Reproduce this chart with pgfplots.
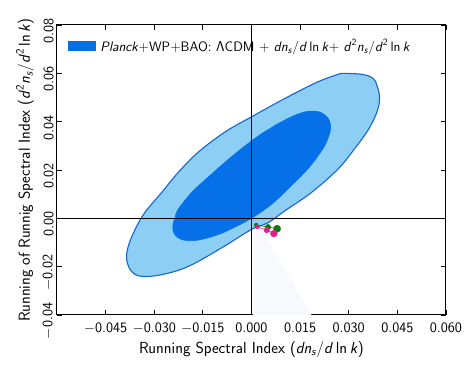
\documentclass[border=0pt]{standalone}
\usepackage{pgfplots}
\pgfplotsset{compat=1.18}
\renewcommand{\familydefault}{\sfdefault}
\definecolor{cdark}{HTML}{0670E8}
\definecolor{clight}{HTML}{8DCEF5}
\definecolor{cedge}{HTML}{1565D0}
\definecolor{cwedge}{HTML}{F7F9FD}
\definecolor{cgreen}{HTML}{0A7A0A}
\definecolor{cmag}{HTML}{E0208A}
\begin{document}
\begin{tikzpicture}
\begin{axis}[
  scale only axis, width=389pt, height=290pt,
  xmin=-0.06, xmax=0.06, ymin=-0.04, ymax=0.08,
  xtick={-0.045,-0.03,-0.015,0,0.015,0.03,0.045,0.06},
  ytick={-0.04,-0.02,0,0.02,0.04,0.06,0.08},
  scaled ticks=false,
  xticklabel={$\mathsf{\pgfmathprintnumber[fixed,fixed zerofill,precision=3]{\tick}}$},
  yticklabel={$\mathsf{\pgfmathprintnumber[fixed,fixed zerofill,precision=2]{\tick}}$},
  tick label style={font=\fontsize{13.4}{15}\selectfont},
  xticklabel style={yshift=-5pt},
  yticklabel style={rotate=90, anchor=south, xshift=-6pt},
  major tick length=5pt,
  tick style={black, line width=0.8pt},
  axis line style={line width=1pt},
  label style={font=\fontsize{16}{18}\selectfont},
  xlabel={Running Spectral Index (\textit{dn}\textsubscript{\textit{s}}/\textit{d}\,ln\,\textit{k})},
  ylabel={Running of Runnig Spectral Index (\textit{d}\textsuperscript{2}\textit{n}\textsubscript{\textit{s}}/\textit{d}\textsuperscript{2}\,ln\,\textit{k})},
  xlabel style={yshift=0pt},
  ylabel style={yshift=2pt},
  legend style={at={(0.02,0.965)}, anchor=north west, draw=none, fill=none,
    font=\fontsize{13.7}{16}\selectfont},
  legend cell align=left,
  legend image code/.code={\fill[#1] (0pt,-4.5pt) rectangle (27pt,4.5pt);},
]
% faint wedge
\addplot[fill=cwedge, draw=none, forget plot] coordinates {
 (0.0004,-0.0055) (0.0035,-0.0055) (0.0185,-0.04) (0.0004,-0.04)} -- cycle;
% outer contour
\addplot[fill=clight, draw=cedge, line width=1.1pt, smooth, tension=0.6, forget plot] coordinates {
 (0.0277,0.0600) (0.0339,0.0596) (0.0375,0.0579) (0.0390,0.0538) (0.0395,0.0489)
 (0.0385,0.0433) (0.0359,0.0364) (0.0318,0.0288) (0.0267,0.0204) (0.0185,0.0107)
 (0.0103,0.0031) (0.0051,-0.0018) (0.0000,-0.0046) (-0.0092,-0.0122) (-0.0195,-0.0199)
 (-0.0277,-0.0233) (-0.0339,-0.0240) (-0.0370,-0.0220) (-0.0385,-0.0171) (-0.0380,-0.0115)
 (-0.0359,-0.0046) (-0.0329,0.0024) (-0.0277,0.0107) (-0.0226,0.0190) (-0.0164,0.0274)
 (-0.0082,0.0357) (0.0000,0.0420) (0.0103,0.0496) (0.0205,0.0565) (0.0277,0.0600)} -- cycle;
% inner contour
\addplot[fill=cdark, draw=cdark, line width=0.5pt, smooth, tension=0.55] coordinates {
 (0.0082,0.0392) (0.0133,0.0426) (0.0175,0.0443) (0.0210,0.0440) (0.0236,0.0415)
 (0.0244,0.0385) (0.0241,0.0350) (0.0226,0.0301) (0.0195,0.0239) (0.0164,0.0190)
 (0.0123,0.0135) (0.0062,0.0058) (0.0000,0.0000) (-0.0045,-0.0032) (-0.0092,-0.0062)
 (-0.0135,-0.0081) (-0.0175,-0.0092) (-0.0216,-0.0088) (-0.0238,-0.0065) (-0.0243,-0.0032)
 (-0.0236,0.0003) (-0.0226,0.0038) (-0.0185,0.0107) (-0.0144,0.0158) (-0.0082,0.0232)
 (-0.0021,0.0299) (0.0031,0.0350) (0.0082,0.0392)} -- cycle;
\addlegendentry{\hspace{3pt}\textit{Planck}+WP+BAO: $\mathsf{\Lambda}$CDM + \textit{dn}\textsubscript{\textit{s}}/\textit{d}\,ln\,\textit{k}+ \textit{d}\textsuperscript{2}\textit{n}\textsubscript{\textit{s}}/\textit{d}\textsuperscript{2}\,ln\,\textit{k}}
% zero lines
\addplot[black, line width=0.8pt, forget plot] coordinates {(-0.06,0) (0.06,0)};
\addplot[black, line width=0.8pt, forget plot] coordinates {(0,-0.04) (0,0.08)};
% green points
\addplot[cgreen, line width=0.6pt, forget plot] coordinates {(0.00145,-0.0028) (0.0051,-0.0036) (0.0079,-0.0043)};
\addplot[only marks, mark=*, mark size=2pt, cgreen, forget plot] coordinates {(0.00145,-0.0028)};
\addplot[only marks, mark=*, mark size=2.7pt, cgreen, forget plot] coordinates {(0.0051,-0.0036)};
\addplot[only marks, mark=*, mark size=3.6pt, cgreen, forget plot] coordinates {(0.0079,-0.0043)};
% magenta points
\addplot[cmag, line width=0.6pt, forget plot] coordinates {(0.00176,-0.0035) (0.0047,-0.0049) (0.0069,-0.0063)};
\addplot[only marks, mark=*, mark size=2pt, cmag, forget plot] coordinates {(0.00176,-0.0035)};
\addplot[only marks, mark=*, mark size=2.7pt, cmag, forget plot] coordinates {(0.0047,-0.0049)};
\addplot[only marks, mark=*, mark size=3.4pt, cmag, forget plot] coordinates {(0.0069,-0.0063)};
\end{axis}
\path (current axis.south west) ++(-57pt,-56pt) rectangle ++(474pt,371pt);
\end{tikzpicture}
\end{document}
